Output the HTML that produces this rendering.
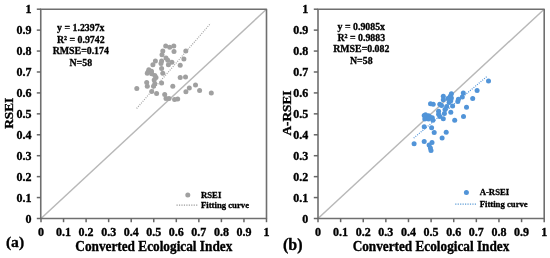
<!DOCTYPE html>
<html><head><meta charset="utf-8"><style>
html,body{margin:0;padding:0;background:#fff;width:550px;height:258px;overflow:hidden}
svg{display:block}
text{font-family:"Liberation Serif","Times New Roman",serif;font-weight:bold;fill:#000;stroke:#000;stroke-width:0.35px}
.tk{font-size:12px}
.eq{font-size:9.85px;stroke-width:0.3px}
.lg{font-size:8.7px;stroke-width:0.3px}
.at{font-size:13.3px}
.xt{font-size:13.7px}
.lt{font-size:16px}
</style></head><body>
<svg width="550" height="258" viewBox="0 0 550 258">
<rect width="550" height="258" fill="#fff"/>
<line x1="41" y1="218.5" x2="266.5" y2="9.2" stroke="#b8b8b8" stroke-width="1.5"/>
<line x1="136.61" y1="108.49" x2="210.58" y2="23.38" stroke="#a4a4a4" stroke-width="1.2" stroke-dasharray="1 1.3"/>
<circle cx="165.7" cy="46.1" r="2.5" fill="#a0a0a0"/>
<circle cx="169.7" cy="47.3" r="2.5" fill="#a0a0a0"/>
<circle cx="173.8" cy="46.1" r="2.5" fill="#a0a0a0"/>
<circle cx="174" cy="51.4" r="2.5" fill="#a0a0a0"/>
<circle cx="162.8" cy="51" r="2.5" fill="#a0a0a0"/>
<circle cx="162" cy="54.7" r="2.5" fill="#a0a0a0"/>
<circle cx="166" cy="57.9" r="2.5" fill="#a0a0a0"/>
<circle cx="167.8" cy="60.3" r="2.5" fill="#a0a0a0"/>
<circle cx="161.6" cy="61" r="2.5" fill="#a0a0a0"/>
<circle cx="161" cy="63.4" r="2.5" fill="#a0a0a0"/>
<circle cx="155.4" cy="61" r="2.5" fill="#a0a0a0"/>
<circle cx="152.9" cy="64.7" r="2.5" fill="#a0a0a0"/>
<circle cx="171.9" cy="62.2" r="2.5" fill="#a0a0a0"/>
<circle cx="168.4" cy="64.7" r="2.5" fill="#a0a0a0"/>
<circle cx="185.8" cy="51" r="2.5" fill="#a0a0a0"/>
<circle cx="183.9" cy="59.1" r="2.5" fill="#a0a0a0"/>
<circle cx="180.2" cy="65.3" r="2.5" fill="#a0a0a0"/>
<circle cx="161.6" cy="68.4" r="2.5" fill="#a0a0a0"/>
<circle cx="148.8" cy="69.8" r="2.5" fill="#a0a0a0"/>
<circle cx="148" cy="71.9" r="2.5" fill="#a0a0a0"/>
<circle cx="151.5" cy="71.3" r="2.5" fill="#a0a0a0"/>
<circle cx="147.3" cy="73.2" r="2.5" fill="#a0a0a0"/>
<circle cx="151.7" cy="73.8" r="2.5" fill="#a0a0a0"/>
<circle cx="154.8" cy="75.6" r="2.5" fill="#a0a0a0"/>
<circle cx="156" cy="77.5" r="2.5" fill="#a0a0a0"/>
<circle cx="154.2" cy="80" r="2.5" fill="#a0a0a0"/>
<circle cx="154.8" cy="83.7" r="2.5" fill="#a0a0a0"/>
<circle cx="153.5" cy="86.2" r="2.5" fill="#a0a0a0"/>
<circle cx="162.8" cy="73.2" r="2.5" fill="#a0a0a0"/>
<circle cx="161.6" cy="83.1" r="2.5" fill="#a0a0a0"/>
<circle cx="146.7" cy="82.5" r="2.5" fill="#a0a0a0"/>
<circle cx="147.3" cy="86.2" r="2.5" fill="#a0a0a0"/>
<circle cx="136.8" cy="88.5" r="2.5" fill="#a0a0a0"/>
<circle cx="172.8" cy="86.2" r="2.5" fill="#a0a0a0"/>
<circle cx="180.2" cy="77.5" r="2.5" fill="#a0a0a0"/>
<circle cx="185.5" cy="77.1" r="2.5" fill="#a0a0a0"/>
<circle cx="151.7" cy="91.4" r="2.5" fill="#a0a0a0"/>
<circle cx="156.6" cy="93.5" r="2.5" fill="#a0a0a0"/>
<circle cx="164.7" cy="94.5" r="2.5" fill="#a0a0a0"/>
<circle cx="185.9" cy="91.7" r="2.5" fill="#a0a0a0"/>
<circle cx="166" cy="98.4" r="2.5" fill="#a0a0a0"/>
<circle cx="169" cy="98.4" r="2.5" fill="#a0a0a0"/>
<circle cx="174.6" cy="99.4" r="2.5" fill="#a0a0a0"/>
<circle cx="177.7" cy="99" r="2.5" fill="#a0a0a0"/>
<circle cx="189.3" cy="88.1" r="2.5" fill="#a0a0a0"/>
<circle cx="195.5" cy="85" r="2.5" fill="#a0a0a0"/>
<circle cx="199.6" cy="90.5" r="2.5" fill="#a0a0a0"/>
<circle cx="211.3" cy="93" r="2.5" fill="#a0a0a0"/>
<rect x="40.75" y="9.2" width="225.75" height="209.3" fill="none" stroke="#6f6f6f" stroke-width="1.6" stroke-linejoin="round"/>
<line x1="36.8" y1="218.50" x2="41" y2="218.50" stroke="#666" stroke-width="1.5"/>
<line x1="41.00" y1="218.5" x2="41.00" y2="222.2" stroke="#666" stroke-width="1.5"/>
<text x="31.5" y="222.50" text-anchor="end" class="tk">0</text>
<text x="41.00" y="236" text-anchor="middle" class="tk">0</text>
<line x1="36.8" y1="197.57" x2="41" y2="197.57" stroke="#666" stroke-width="1.5"/>
<line x1="63.55" y1="218.5" x2="63.55" y2="222.2" stroke="#666" stroke-width="1.5"/>
<text x="31.5" y="201.57" text-anchor="end" class="tk">0.1</text>
<text x="63.55" y="236" text-anchor="middle" class="tk">0.1</text>
<line x1="36.8" y1="176.64" x2="41" y2="176.64" stroke="#666" stroke-width="1.5"/>
<line x1="86.10" y1="218.5" x2="86.10" y2="222.2" stroke="#666" stroke-width="1.5"/>
<text x="31.5" y="180.64" text-anchor="end" class="tk">0.2</text>
<text x="86.10" y="236" text-anchor="middle" class="tk">0.2</text>
<line x1="36.8" y1="155.71" x2="41" y2="155.71" stroke="#666" stroke-width="1.5"/>
<line x1="108.65" y1="218.5" x2="108.65" y2="222.2" stroke="#666" stroke-width="1.5"/>
<text x="31.5" y="159.71" text-anchor="end" class="tk">0.3</text>
<text x="108.65" y="236" text-anchor="middle" class="tk">0.3</text>
<line x1="36.8" y1="134.78" x2="41" y2="134.78" stroke="#666" stroke-width="1.5"/>
<line x1="131.20" y1="218.5" x2="131.20" y2="222.2" stroke="#666" stroke-width="1.5"/>
<text x="31.5" y="138.78" text-anchor="end" class="tk">0.4</text>
<text x="131.20" y="236" text-anchor="middle" class="tk">0.4</text>
<line x1="36.8" y1="113.85" x2="41" y2="113.85" stroke="#666" stroke-width="1.5"/>
<line x1="153.75" y1="218.5" x2="153.75" y2="222.2" stroke="#666" stroke-width="1.5"/>
<text x="31.5" y="117.85" text-anchor="end" class="tk">0.5</text>
<text x="153.75" y="236" text-anchor="middle" class="tk">0.5</text>
<line x1="36.8" y1="92.92" x2="41" y2="92.92" stroke="#666" stroke-width="1.5"/>
<line x1="176.30" y1="218.5" x2="176.30" y2="222.2" stroke="#666" stroke-width="1.5"/>
<text x="31.5" y="96.92" text-anchor="end" class="tk">0.6</text>
<text x="176.30" y="236" text-anchor="middle" class="tk">0.6</text>
<line x1="36.8" y1="71.99" x2="41" y2="71.99" stroke="#666" stroke-width="1.5"/>
<line x1="198.85" y1="218.5" x2="198.85" y2="222.2" stroke="#666" stroke-width="1.5"/>
<text x="31.5" y="75.99" text-anchor="end" class="tk">0.7</text>
<text x="198.85" y="236" text-anchor="middle" class="tk">0.7</text>
<line x1="36.8" y1="51.06" x2="41" y2="51.06" stroke="#666" stroke-width="1.5"/>
<line x1="221.40" y1="218.5" x2="221.40" y2="222.2" stroke="#666" stroke-width="1.5"/>
<text x="31.5" y="55.06" text-anchor="end" class="tk">0.8</text>
<text x="221.40" y="236" text-anchor="middle" class="tk">0.8</text>
<line x1="36.8" y1="30.13" x2="41" y2="30.13" stroke="#666" stroke-width="1.5"/>
<line x1="243.95" y1="218.5" x2="243.95" y2="222.2" stroke="#666" stroke-width="1.5"/>
<text x="31.5" y="34.13" text-anchor="end" class="tk">0.9</text>
<text x="243.95" y="236" text-anchor="middle" class="tk">0.9</text>
<line x1="36.8" y1="9.20" x2="41" y2="9.20" stroke="#666" stroke-width="1.5"/>
<line x1="266.50" y1="218.5" x2="266.50" y2="222.2" stroke="#666" stroke-width="1.5"/>
<text x="31.5" y="13.20" text-anchor="end" class="tk">1</text>
<text x="266.50" y="236" text-anchor="middle" class="tk">1</text>
<line x1="318" y1="218.5" x2="544.2" y2="9.2" stroke="#b8b8b8" stroke-width="1.5"/>
<line x1="413.68" y1="138.07" x2="487.42" y2="76.08" stroke="#4f92d8" stroke-width="1.2" stroke-dasharray="1 1.3"/>
<circle cx="430.5" cy="103.8" r="2.5" fill="#5194d8"/>
<circle cx="433.2" cy="104.3" r="2.5" fill="#5194d8"/>
<circle cx="458.4" cy="99.3" r="2.5" fill="#5194d8"/>
<circle cx="457.8" cy="101.4" r="2.5" fill="#5194d8"/>
<circle cx="462.3" cy="96.9" r="2.5" fill="#5194d8"/>
<circle cx="463.3" cy="93.1" r="2.5" fill="#5194d8"/>
<circle cx="472.7" cy="98.6" r="2.5" fill="#5194d8"/>
<circle cx="466.5" cy="107.2" r="2.5" fill="#5194d8"/>
<circle cx="463.5" cy="116.4" r="2.5" fill="#5194d8"/>
<circle cx="443.3" cy="96.3" r="2.5" fill="#5194d8"/>
<circle cx="451.4" cy="93.7" r="2.5" fill="#5194d8"/>
<circle cx="450.2" cy="96.2" r="2.5" fill="#5194d8"/>
<circle cx="451.4" cy="97.9" r="2.5" fill="#5194d8"/>
<circle cx="447.9" cy="98.5" r="2.5" fill="#5194d8"/>
<circle cx="443.3" cy="99.7" r="2.5" fill="#5194d8"/>
<circle cx="450.8" cy="100.8" r="2.5" fill="#5194d8"/>
<circle cx="449.1" cy="102.6" r="2.5" fill="#5194d8"/>
<circle cx="439.8" cy="104.3" r="2.5" fill="#5194d8"/>
<circle cx="441.5" cy="105.5" r="2.5" fill="#5194d8"/>
<circle cx="446.7" cy="106.6" r="2.5" fill="#5194d8"/>
<circle cx="452.6" cy="106" r="2.5" fill="#5194d8"/>
<circle cx="445" cy="109.5" r="2.5" fill="#5194d8"/>
<circle cx="438.6" cy="111.3" r="2.5" fill="#5194d8"/>
<circle cx="438.6" cy="114.2" r="2.5" fill="#5194d8"/>
<circle cx="444.4" cy="113.6" r="2.5" fill="#5194d8"/>
<circle cx="439.8" cy="116.5" r="2.5" fill="#5194d8"/>
<circle cx="443.3" cy="118.8" r="2.5" fill="#5194d8"/>
<circle cx="450.8" cy="112.2" r="2.5" fill="#5194d8"/>
<circle cx="454.7" cy="120.3" r="2.5" fill="#5194d8"/>
<circle cx="425.5" cy="114.8" r="2.5" fill="#5194d8"/>
<circle cx="428.6" cy="115.8" r="2.5" fill="#5194d8"/>
<circle cx="424.2" cy="115.5" r="2.5" fill="#5194d8"/>
<circle cx="426.7" cy="116.6" r="2.5" fill="#5194d8"/>
<circle cx="429.8" cy="117.1" r="2.5" fill="#5194d8"/>
<circle cx="432.3" cy="117.8" r="2.5" fill="#5194d8"/>
<circle cx="424.8" cy="119" r="2.5" fill="#5194d8"/>
<circle cx="428.5" cy="119" r="2.5" fill="#5194d8"/>
<circle cx="432.9" cy="120.2" r="2.5" fill="#5194d8"/>
<circle cx="424.2" cy="126.8" r="2.5" fill="#5194d8"/>
<circle cx="431.6" cy="127.8" r="2.5" fill="#5194d8"/>
<circle cx="434.2" cy="132.4" r="2.5" fill="#5194d8"/>
<circle cx="446.2" cy="132.2" r="2.5" fill="#5194d8"/>
<circle cx="414.1" cy="143.7" r="2.5" fill="#5194d8"/>
<circle cx="424.2" cy="141.4" r="2.5" fill="#5194d8"/>
<circle cx="432" cy="142.4" r="2.5" fill="#5194d8"/>
<circle cx="429.1" cy="144.9" r="2.5" fill="#5194d8"/>
<circle cx="430.4" cy="148" r="2.5" fill="#5194d8"/>
<circle cx="431" cy="150.4" r="2.5" fill="#5194d8"/>
<circle cx="442.1" cy="138" r="2.5" fill="#5194d8"/>
<circle cx="488.5" cy="80.9" r="2.5" fill="#5194d8"/>
<circle cx="477.1" cy="90.5" r="2.5" fill="#5194d8"/>
<rect x="318" y="9.2" width="226.20000000000005" height="209.3" fill="none" stroke="#6f6f6f" stroke-width="1.6" stroke-linejoin="round"/>
<line x1="313.8" y1="218.50" x2="318" y2="218.50" stroke="#666" stroke-width="1.5"/>
<line x1="318.00" y1="218.5" x2="318.00" y2="222.2" stroke="#666" stroke-width="1.5"/>
<text x="308.3" y="222.50" text-anchor="end" class="tk">0</text>
<text x="318.00" y="236" text-anchor="middle" class="tk">0</text>
<line x1="313.8" y1="197.57" x2="318" y2="197.57" stroke="#666" stroke-width="1.5"/>
<line x1="340.62" y1="218.5" x2="340.62" y2="222.2" stroke="#666" stroke-width="1.5"/>
<text x="308.3" y="201.57" text-anchor="end" class="tk">0.1</text>
<text x="340.62" y="236" text-anchor="middle" class="tk">0.1</text>
<line x1="313.8" y1="176.64" x2="318" y2="176.64" stroke="#666" stroke-width="1.5"/>
<line x1="363.24" y1="218.5" x2="363.24" y2="222.2" stroke="#666" stroke-width="1.5"/>
<text x="308.3" y="180.64" text-anchor="end" class="tk">0.2</text>
<text x="363.24" y="236" text-anchor="middle" class="tk">0.2</text>
<line x1="313.8" y1="155.71" x2="318" y2="155.71" stroke="#666" stroke-width="1.5"/>
<line x1="385.86" y1="218.5" x2="385.86" y2="222.2" stroke="#666" stroke-width="1.5"/>
<text x="308.3" y="159.71" text-anchor="end" class="tk">0.3</text>
<text x="385.86" y="236" text-anchor="middle" class="tk">0.3</text>
<line x1="313.8" y1="134.78" x2="318" y2="134.78" stroke="#666" stroke-width="1.5"/>
<line x1="408.48" y1="218.5" x2="408.48" y2="222.2" stroke="#666" stroke-width="1.5"/>
<text x="308.3" y="138.78" text-anchor="end" class="tk">0.4</text>
<text x="408.48" y="236" text-anchor="middle" class="tk">0.4</text>
<line x1="313.8" y1="113.85" x2="318" y2="113.85" stroke="#666" stroke-width="1.5"/>
<line x1="431.10" y1="218.5" x2="431.10" y2="222.2" stroke="#666" stroke-width="1.5"/>
<text x="308.3" y="117.85" text-anchor="end" class="tk">0.5</text>
<text x="431.10" y="236" text-anchor="middle" class="tk">0.5</text>
<line x1="313.8" y1="92.92" x2="318" y2="92.92" stroke="#666" stroke-width="1.5"/>
<line x1="453.72" y1="218.5" x2="453.72" y2="222.2" stroke="#666" stroke-width="1.5"/>
<text x="308.3" y="96.92" text-anchor="end" class="tk">0.6</text>
<text x="453.72" y="236" text-anchor="middle" class="tk">0.6</text>
<line x1="313.8" y1="71.99" x2="318" y2="71.99" stroke="#666" stroke-width="1.5"/>
<line x1="476.34" y1="218.5" x2="476.34" y2="222.2" stroke="#666" stroke-width="1.5"/>
<text x="308.3" y="75.99" text-anchor="end" class="tk">0.7</text>
<text x="476.34" y="236" text-anchor="middle" class="tk">0.7</text>
<line x1="313.8" y1="51.06" x2="318" y2="51.06" stroke="#666" stroke-width="1.5"/>
<line x1="498.96" y1="218.5" x2="498.96" y2="222.2" stroke="#666" stroke-width="1.5"/>
<text x="308.3" y="55.06" text-anchor="end" class="tk">0.8</text>
<text x="498.96" y="236" text-anchor="middle" class="tk">0.8</text>
<line x1="313.8" y1="30.13" x2="318" y2="30.13" stroke="#666" stroke-width="1.5"/>
<line x1="521.58" y1="218.5" x2="521.58" y2="222.2" stroke="#666" stroke-width="1.5"/>
<text x="308.3" y="34.13" text-anchor="end" class="tk">0.9</text>
<text x="521.58" y="236" text-anchor="middle" class="tk">0.9</text>
<line x1="313.8" y1="9.20" x2="318" y2="9.20" stroke="#666" stroke-width="1.5"/>
<line x1="544.20" y1="218.5" x2="544.20" y2="222.2" stroke="#666" stroke-width="1.5"/>
<text x="308.3" y="13.20" text-anchor="end" class="tk">1</text>
<text x="544.20" y="236" text-anchor="middle" class="tk">1</text>
<text x="80.8" y="31.30" text-anchor="middle" class="eq">y = 1.2397x</text>
<text x="80.8" y="42.75" text-anchor="middle" class="eq">R² = 0.9742</text>
<text x="80.8" y="54.20" text-anchor="middle" class="eq">RMSE=0.174</text>
<text x="80.8" y="65.65" text-anchor="middle" class="eq">N=58</text>
<text x="361.3" y="30.10" text-anchor="middle" class="eq">y = 0.9085x</text>
<text x="361.3" y="41.25" text-anchor="middle" class="eq">R² = 0.9883</text>
<text x="361.3" y="52.40" text-anchor="middle" class="eq">RMSE=0.082</text>
<text x="361.3" y="63.55" text-anchor="middle" class="eq">N=58</text>
<circle cx="187.8" cy="194.9" r="2.5" fill="#a0a0a0"/>
<text x="201" y="197.8" class="lg">RSEI</text>
<line x1="176.5" y1="205.1" x2="198.3" y2="205.1" stroke="#9a9a9a" stroke-width="1.3" stroke-dasharray="1.2 1.25"/>
<text x="201" y="208.3" class="lg">Fitting curve</text>
<circle cx="466.4" cy="192.5" r="2.5" fill="#5194d8"/>
<text x="479.7" y="195.4" class="lg">A-RSEI</text>
<line x1="455.2" y1="204.1" x2="476.3" y2="204.1" stroke="#5b9bd5" stroke-width="1.3" stroke-dasharray="1.2 1.25"/>
<text x="479.7" y="207.2" class="lg">Fitting curve</text>
<text x="153.8" y="251.3" text-anchor="middle" class="xt" textLength="157" lengthAdjust="spacingAndGlyphs">Converted Ecological Index</text>
<text x="431" y="251.1" text-anchor="middle" class="xt" textLength="156.6" lengthAdjust="spacingAndGlyphs">Converted Ecological Index</text>
<text transform="translate(13.3,113.3) rotate(-90)" text-anchor="middle" class="at">RSEI</text>
<text transform="translate(291.2,113) rotate(-90)" text-anchor="middle" class="at">A-RSEI</text>
<text x="5.9" y="246.9" class="lt" style="font-size:15.6px">(a)</text>
<text x="283" y="249.6" class="lt">(b)</text>
</svg>
</body></html>
